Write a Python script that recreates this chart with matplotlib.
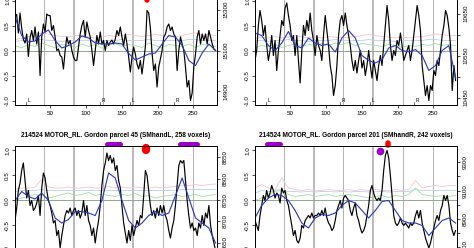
import numpy as np
import matplotlib
matplotlib.use("Agg")
import matplotlib.pyplot as plt

plt.rcParams['font.family'] = ['Liberation Sans', 'DejaVu Sans']
plt.rcParams['axes.unicode_minus'] = False

# frames with task-block boundaries and event letters
vlines = [41.5, 83, 124.5, 166, 207.5, 249]
thick = [83, 166]
ev_x = [20, 124, 165, 227]
ev_lab = ['L', 'R', 'L', 'R']

# top-left panel
tl_black = [0.67, 0.72, 0.35, 0.75, 0.45, 0.22, 0.15, 0.33, -0.12, 0.25,
            0.4, 0.2, 0.47, 0.13, 0.37, -0.5, 0.27, 0.53, 0.37, 0.73,
            0.7, 0.7, 0.4, 0.5, 0.27, 0.0, 0.03, -0.1, -0.13, -0.37,
            0.0, 0.27, 0.13, 0.2, 0.0, -0.13, -0.2, -0.2, 0.07, 0.33,
            0.5, 0.6, 0.27, 0.57, 0.4, 0.27, 0.0, -0.3, 0.0, 0.3,
            0.13, 0.37, 0.13, 0.2, 0.0, 0.2, 0.1, 0.17, 0.21, 0.13,
            0.23, 0.4, 0.3, 0.47, 0.27, 0.1, 0.33, 0.13, -0.13, -0.43,
            -0.13, 0.07, -0.07, -0.27, -0.37, -0.2, -0.47, -0.2, 0.07, 0.8,
            0.75, 0.45, -0.05, -0.4, -0.27, -0.73, -0.33, -0.17, 0.0, 0.27,
            0.33, 0.47, 0.53, 0.4, 0.47, 0.33, 0.27, -0.4, 0.0, 0.27,
            0.13, 0.0, -0.33, -0.73, -0.6, -1.0, -0.85, -0.33, -0.07, 0.27,
            0.4, 0.13, 0.33, 0.2, 0.33, 0.13, 0.4, 0.27, 0.13, 0.03,
            0.0]
tl_smooth = [0.67, 0.3, 0.17, 0.19, 0.33, 0.41, 0.2, 0.05, 0.1, 0.17, 0.29,
             0.25, 0.15, 0.13, 0.13, 0.15, 0.13, -0.06, -0.19, -0.13, -0.07,
             -0.05, 0.13, 0.3, 0.27, 0.1, -0.2, -0.3, -0.05, 0.13, 0.0]
tl_pink = [0.22, 0.25, 0.28, 0.3, 0.35, 0.33, 0.3, 0.28, 0.27, 0.3, 0.3,
           0.27, 0.25, 0.27, 0.3, 0.28, 0.3, 0.32, 0.3, 0.28, 0.3, 0.32,
           0.3, 0.28, 0.27, 0.3, 0.33, 0.35, 0.3, 0.32, 0.3]
tl_lblue = [0.18, 0.2, 0.2, 0.22, 0.22, 0.2, 0.2, 0.18, 0.2, 0.2, 0.2,
            0.2, 0.18, 0.2, 0.2, 0.2, 0.22, 0.2, 0.2, 0.2, 0.22, 0.2,
            0.2, 0.2, 0.2, 0.2, 0.22, 0.22, 0.2, 0.2, 0.2]
tl_green = [0.1, 0.05, 0.12, 0.08, 0.15, 0.1, 0.05, 0.12, 0.1, 0.06, 0.13,
            0.08, 0.12, 0.05, 0.1, 0.14, 0.08, 0.12, 0.1, 0.06, 0.15, 0.1,
            0.05, 0.12, 0.1, 0.08, 0.13, 0.06, 0.12, 0.1, 0.08]

# top-right panel
tr_black = [-0.2, 0.0, 0.5, 0.8, 0.6, 0.3, 0.5, 0.1, -0.2, 0.0,
            0.3, -0.1, 0.2, -0.4, 0.0, 0.3, 0.6, 0.5, 0.85, 0.95,
            0.7, 0.5, 0.2, 0.3, -0.1, 0.3, -0.2, -0.65, 0.0, 0.5,
            0.3, 0.6, 0.4, 0.75, 0.4, 0.2, -0.1, 0.3, 0.1, 0.0,
            -0.2, 0.3, 0.7, 0.4, 0.1, -0.3, -0.5, -0.9, -0.7, -0.3,
            0.3, 0.6, 0.7, 0.5, 0.75, 0.5, 0.3, 0.1, -0.2, -0.4,
            -0.2, -0.45, -0.2, 0.0, -0.35, -0.2, -0.5, -0.3, 0.0, -0.3,
            -0.55, -0.2, -0.4, -0.6, -0.3, -0.1, -0.3, 0.1, 0.5, 0.9,
            0.6, 0.1, -0.2, 0.0, -0.1, 0.2, 0.1, 0.35, 0.1, -0.2,
            -0.1, 0.0, 0.1, -0.2, 0.0, 0.3, 0.6, 0.9, 0.7, 0.4,
            -0.3, -0.6, -0.9, -0.7, -1.0, -0.7, -0.8, -0.4, -0.5, -0.2,
            -0.3, 0.0, 0.3, 0.5, 0.8, 0.7, 0.45, 0.1, -0.8, -0.3,
            -0.6]
tr_smooth = [0.35, 0.3, 0.1, 0.0, 0.15, 0.38, 0.1, 0.05, 0.25, 0.15, 0.1,
             0.13, -0.03, 0.25, 0.4, 0.25, -0.1, -0.2, -0.25, -0.18, 0.05,
             0.1, 0.0, -0.03, 0.02, -0.1, -0.4, -0.3, 0.0, 0.1, -0.55]
tr_pink = [0.25, 0.27, 0.25, 0.28, 0.25, 0.27, 0.3, 0.27, 0.25, 0.27, 0.25,
           0.28, 0.27, 0.25, 0.27, 0.28, 0.3, 0.32, 0.3, 0.28, 0.27, 0.25,
           0.27, 0.25, 0.27, 0.28, 0.3, 0.33, 0.32, 0.3, 0.3]
tr_lblue = [0.2, 0.2, 0.18, 0.2, 0.2, 0.22, 0.2, 0.2, 0.18, 0.2, 0.2,
            0.2, 0.22, 0.2, 0.2, 0.2, 0.2, 0.22, 0.2, 0.2, 0.2, 0.18,
            0.2, 0.2, 0.2, 0.2, 0.22, 0.22, 0.2, 0.2, 0.2]
tr_green = [0.05, 0.1, 0.08, 0.12, 0.06, 0.1, 0.13, 0.08, 0.12, 0.1, 0.14,
            0.1, 0.15, 0.12, 0.16, 0.1, 0.14, 0.12, 0.1, 0.08, 0.12, 0.1,
            0.06, 0.1, 0.08, 0.12, 0.1, 0.14, 0.1, 0.12, 0.1]

# bottom-left panel
bl_black = [-0.4, -0.15, 0.2, 0.35, 0.6, 0.75, 0.4, 0.05, 0.2, -0.1,
            0.0, -0.2, -0.15, -0.05, 0.1, -0.3, 0.25, 0.55, 0.45, 0.2,
            0.0, -0.1, -0.25, -0.45, -0.4, -0.7, -0.6, -0.95, -0.7, -0.5,
            -0.3, -0.2, -0.25, -0.15, -0.3, -0.2, -0.15, -0.3, -0.2, -0.35,
            -0.25, 0.0, -0.3, -0.1, -0.4, -0.5, -0.7, -0.55, -0.85, -0.6,
            -0.4, -0.1, 0.3, 0.6, 0.75, 0.95, 0.8, 0.9, 0.75, 0.85,
            0.6, 0.7, 0.4, 0.25, -0.1, -0.45, -0.65, -0.85, -0.6, -0.8,
            -0.5, -0.7, -0.55, -0.4, -0.5, -0.3, -0.35, 0.1, 0.6, 0.5,
            0.2, -0.1, -0.3, -0.2, -0.35, -0.15, -0.3, -0.1, -0.25, -0.1,
            -0.3, -0.4, -0.6, -0.75, -0.55, -0.4, -0.1, 0.3, 0.7, 0.8,
            0.75, 0.8, 0.4, 0.0, -0.3, -0.55, -0.45, -0.6, -0.55, -0.7,
            -0.45, -0.55, -0.3, -0.5, -0.25, -0.35, -0.1, -0.5, -0.7, -0.85,
            -1.0]
bl_smooth = [0.0, 0.18, 0.08, 0.03, 0.15, 0.0, -0.35, -0.45, -0.38, -0.22,
             -0.22, -0.25, -0.3, 0.0, 0.55, 0.45, 0.0, -0.4, -0.55, -0.45,
             -0.3, -0.22, -0.3, -0.25, 0.1, 0.45, 0.05, -0.35, -0.45, -0.55,
             -0.85]
bl_pink = [0.22, 0.25, 0.25, 0.27, 0.42, 0.27, 0.25, 0.25, 0.27, 0.25, 0.25,
           0.27, 0.25, 0.25, 0.28, 0.25, 0.27, 0.25, 0.27, 0.25, 0.25, 0.27,
           0.25, 0.27, 0.28, 0.3, 0.3, 0.32, 0.3, 0.32, 0.33]
bl_lblue = [0.18, 0.2, 0.2, 0.2, 0.22, 0.2, 0.2, 0.2, 0.2, 0.2, 0.2,
            0.2, 0.2, 0.2, 0.2, 0.2, 0.2, 0.2, 0.2, 0.2, 0.2, 0.2,
            0.2, 0.2, 0.2, 0.22, 0.22, 0.22, 0.22, 0.22, 0.22]
bl_green = [0.0, 0.05, 0.08, 0.12, 0.1, 0.05, 0.08, 0.12, 0.15, 0.1, 0.12,
            0.16, 0.1, 0.13, 0.1, 0.08, 0.12, 0.1, 0.14, 0.08, 0.1, 0.05,
            0.08, 0.1, 0.12, 0.08, 0.1, 0.12, 0.08, 0.1, 0.12]

# bottom-right panel
br_black = [-0.4, -0.5, -0.6, -0.3, -0.1, 0.1, 0.0, 0.2, 0.05, 0.15,
            0.3, 0.2, 0.05, 0.15, 0.1, -0.05, 0.25, 0.15, 0.2, 0.0,
            -0.1, -0.3, -0.5, -0.7, -0.6, -0.8, -0.85, -0.75, -0.5, -0.55,
            -0.4, -0.35, -0.3, -0.35, -0.25, -0.35, -0.3, -0.3, -0.25, -0.3,
            -0.2, -0.3, -0.15, -0.35, -0.45, -0.5, -0.6, -0.55, -0.4, -0.2,
            -0.1, 0.0, -0.15, 0.05, 0.1, 0.05, 0.0, -0.2, -0.3, -0.15,
            -0.05, -0.3, -0.4, -0.55, -0.65, -0.6, -0.5, -0.3, -0.1, 0.2,
            0.3, 0.15, 0.05, 0.0, 0.05, 0.0, 0.2, 0.6, 0.9, 1.0,
            0.85, 0.5, 0.1, -0.3, -0.45, -0.5, -0.45, -0.35, -0.45, -0.5,
            -0.45, -0.5, -0.55, -0.45, -0.5, -0.45, -0.3, -0.2, -0.35, -0.2,
            -0.45, -0.6, -0.75, -0.85, -0.95, -0.85, -0.7, -0.55, -0.4, -0.3,
            -0.4, -0.2, -0.1, 0.1, 0.0, 0.1, -0.1, -0.45, -0.6, -0.7,
            -0.6]
br_smooth = [-0.35, -0.1, 0.05, 0.12, 0.1, 0.0, -0.2, -0.45, -0.55, -0.35,
             -0.28, -0.3, -0.25, -0.1, 0.0, -0.05, -0.2, -0.35, -0.2, -0.02,
             0.0, -0.2, -0.4, -0.45, -0.45, -0.5, -0.7, -0.55, -0.4, -0.35,
             -0.45]
br_pink = [0.25, 0.32, 0.25, 0.22, 0.45, 0.25, 0.22, 0.2, 0.22, 0.2, 0.2,
           0.22, 0.2, 0.2, 0.22, 0.2, 0.22, 0.2, 0.22, 0.2, 0.2, 0.22,
           0.2, 0.22, 0.4, 0.25, 0.28, 0.3, 0.28, 0.3, 0.3]
br_lblue = [0.15, 0.2, 0.18, 0.18, 0.2, 0.18, 0.18, 0.17, 0.18, 0.17, 0.18,
            0.18, 0.17, 0.18, 0.17, 0.18, 0.18, 0.17, 0.18, 0.18, 0.17, 0.18,
            0.18, 0.18, 0.22, 0.2, 0.2, 0.2, 0.2, 0.2, 0.2]
br_green = [0.0, 0.05, 0.1, 0.2, 0.22, 0.12, 0.08, 0.1, 0.12, 0.08, 0.1,
            0.12, 0.08, 0.1, 0.12, 0.1, 0.08, 0.05, 0.08, 0.1, 0.06, 0.1,
            0.08, 0.12, 0.25, 0.12, 0.1, 0.08, 0.1, 0.08, 0.1]

W, H = 474, 248
fig = plt.figure(figsize=(W / 100, H / 100), dpi=100)


def add_ax(l, r, top, bot):
    return fig.add_axes([l / W, 1 - bot / H, (r - l) / W, (bot - top) / H])


def panel(ax, black, smooth, pink, lblue, green, a, b, rticks, rlab, title=None):
    ax.set_xlim(1, 283)
    ax.set_ylim(-1.08, 1.08)
    for v in vlines:
        ax.axvline(v, color='#a6a6a6', lw=1.1 if v in thick else 0.6, zorder=1)
    ax.axhline(0, color='#90a890', lw=0.7, zorder=1)
    xs = np.linspace(1, 281, len(pink))
    ax.plot(xs, pink, color='#f4c4cf', lw=0.6, zorder=2)
    ax.plot(xs, lblue, color='#b4d0ec', lw=0.6, zorder=2)
    ax.plot(xs, green, color='#9ede9e', lw=0.6, zorder=2)
    ax.plot(np.linspace(1, 281, len(black)), black, color='black', lw=0.85, zorder=3)
    ax.plot(np.linspace(1, 281, len(smooth)), smooth, color='#2a35b5', lw=0.8, zorder=4)
    for x, s in zip(ev_x, ev_lab):
        ax.plot([x - 4, x - 4], [-1.08, -1.02], color='black', lw=0.4)
        ax.text(x, -1.06, s, fontsize=3.5, ha='center', va='bottom')
    ax.set_xticks([50, 100, 150, 200, 250])
    ax.set_yticks([-1, -0.5, 0, 0.5, 1])
    ax.set_yticklabels(['-1.0', '-0.5', '0.0', '0.5', '1.0'])
    ax2 = ax.twinx()
    ax2.set_ylim(a + b * -1.08, a + b * 1.08)
    ax2.set_yticks(rticks)
    ax2.set_yticklabels([str(t) if t in rlab else '' for t in rticks])
    for aa in (ax, ax2):
        aa.tick_params(length=2, width=0.5, labelsize=4.5, pad=1.5)
        for lab in aa.get_yticklabels():
            lab.set_rotation(90)
            lab.set_va('center')
        for sp in aa.spines.values():
            sp.set_linewidth(0.6)
    ax.tick_params(axis='x', pad=2.5)
    ax2.tick_params(axis='y', pad=2.5)
    if title:
        ax.text(0.5, 1.105, title, transform=ax.transAxes, ha='center',
                va='center', fontsize=4.7, fontweight='bold')
    return ax


ax_tl = panel(add_ax(15, 217, -3.5, 104.5), tl_black, tl_smooth, tl_pink, tl_lblue, tl_green,
              15100, 245, [14900, 15000, 15100, 15200, 15300], [14900, 15100, 15300])
ax_tr = panel(add_ax(255, 457, -3.5, 104.5), tr_black, tr_smooth, tr_pink, tr_lblue, tr_green,
              10562, 119, [10450, 10500, 10550, 10600, 10650], [10450, 10550, 10650])
ax_bl = panel(add_ax(15, 217, 146.5, 254.5), bl_black, bl_smooth, bl_pink, bl_lblue, bl_green,
              8749, 117, [8650, 8700, 8750, 8800, 8850], [8650, 8700, 8750, 8800, 8850],
              '214524 MOTOR_RL. Gordon parcel 45 (SMhandL, 258 voxels)')
ax_br = panel(add_ax(255, 457, 146.5, 254.5), br_black, br_smooth, br_pink, br_lblue, br_green,
              9030, 354, [8700, 8800, 8900, 9000, 9100, 9200, 9300], [8700, 8900, 9100, 9300],
              '214524 MOTOR_RL. Gordon parcel 201 (SMhandR, 242 voxels)')

# event markers above the plots
purple = '#9b00c8'
ax_tl.plot([185, 185], [1.02, 1.08], color='red', lw=4, solid_capstyle='round', clip_on=False, zorder=6)
for x0, x1 in [(129, 147), (232, 255)]:
    ax_bl.plot([x0, x1], [1.13, 1.13], color=purple, lw=3.6, solid_capstyle='round', clip_on=False, zorder=6)
ax_bl.plot([183.6, 183.6], [1.0, 1.05], color='red', lw=6, solid_capstyle='round', clip_on=False, zorder=6)
ax_br.plot([17.6, 35.4], [1.12, 1.12], color=purple, lw=3.6, solid_capstyle='round', clip_on=False, zorder=6)
ax_br.plot([176], [0.98], 'o', color=purple, ms=4.5, clip_on=False, zorder=6)
ax_br.plot([187, 187], [1.10, 1.155], color='red', lw=4, solid_capstyle='round', clip_on=False, zorder=6)

fig.savefig('out.png', dpi=100)
